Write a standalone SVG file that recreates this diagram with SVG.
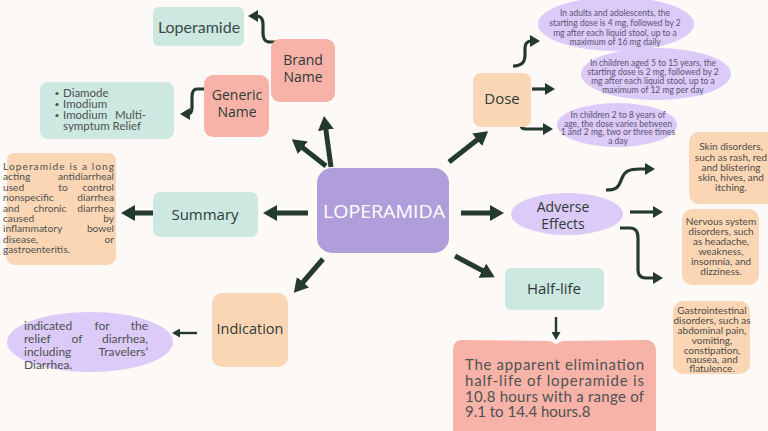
<svg xmlns="http://www.w3.org/2000/svg" width="768" height="431" viewBox="0 0 768 431">
<style>
.pink{fill:#f8b3a9}.teal{fill:#cde7e1}.peach{fill:#fbd6b5}.lav{fill:#dccaf9}
.lbl{font-family:"Open Sans","Liberation Sans",sans-serif;fill:#2e3b36;text-anchor:middle}
.body{font-family:Lato,"Liberation Sans",sans-serif;fill:#4e5250}
.dose{font-family:Lato,"Liberation Sans",sans-serif;fill:#5a5470;font-size:8.5px;text-anchor:middle}
.side{font-family:Lato,"Liberation Sans",sans-serif;fill:#4e4a45;font-size:10px;text-anchor:middle}
.c{fill:none;stroke:#24392f;stroke-linecap:butt;stroke-linejoin:round}
.big{stroke-width:5;marker-end:url(#hb)}
.med{stroke-width:3.2;marker-end:url(#hm)}
.thin{stroke-width:2.4;marker-end:url(#ht)}
</style>
<defs>
<marker id="hb" viewBox="0 0 14 16" markerWidth="14" markerHeight="16" refX="3" refY="8" orient="auto" markerUnits="userSpaceOnUse"><path d="M0,0 L14,8 L0,16 Z" fill="#24392f"/></marker>
<marker id="hm" viewBox="0 0 10 12" markerWidth="10" markerHeight="12" refX="2" refY="6" orient="auto" markerUnits="userSpaceOnUse"><path d="M0,0 L10,6 L0,12 Z" fill="#24392f"/></marker>
<marker id="ht" viewBox="0 0 8 9" markerWidth="8" markerHeight="9" refX="2" refY="4.5" orient="auto" markerUnits="userSpaceOnUse"><path d="M0,0 L8,4.5 L0,9 Z" fill="#24392f"/></marker>
</defs>
<rect width="768" height="431" fill="#fdf9f6"/>

<g id="connectors">
<path class="c big" d="M331,167 L325.5,127"/>
<path class="c big" d="M326,166 L300.5,146"/>
<path class="c big" d="M308,213 L274,213"/>
<path class="c big" d="M166,213 L132,213"/>
<path class="c big" d="M323,259 L301,284.5"/>
<path class="c big" d="M449,162 L479.5,138"/>
<path class="c big" d="M461,213 L493,213"/>
<path class="c big" d="M455,256 L485,272"/>
<path class="c med" d="M278,42 L270,42 C264,42 263,38 263,32 L263,24 C263,18 260,16 256,16"/>
<path class="c med" d="M205,89 L197,89 C193,89 192,93 192,97 L192,108 C192,112 190,114 188,114"/>
<path class="c med" d="M513,66 C522,66 525,62 525,55 L525,48 C525,43 528,41 532,41"/>
<path class="c med" d="M532,89 L547,89"/>
<path class="c med" d="M521,122 L521,125 C521,128 523,129 526,129 L545,129"/>
<path class="c med" d="M606,190 C619,190 619,185 622,178 C625,171 629,169 640,169 L647,169"/>
<path class="c med" d="M630,212 L655,212"/>
<path class="c med" d="M620,228 L630,228 C636,228 638,232 638,238 L638,270 C638,276 641,278 646,278 L655,278"/>
<path class="c thin" d="M197,333 L178,333"/>
<path class="c thin" d="M556,317 L556,334"/>
</g>

<g id="center">
<rect x="317" y="168" width="132" height="85" rx="15" fill="#b09edb"/>
<text x="384" y="218" font-family="Open Sans,Liberation Sans,sans-serif" font-size="19" fill="#ffffff" text-anchor="middle" textLength="122" lengthAdjust="spacingAndGlyphs">LOPERAMIDA</text>
</g>

<g id="loperamide">
<rect x="153" y="7" width="91" height="39" rx="6" class="teal"/>
<text x="199" y="33" font-family="Lato,Liberation Sans,sans-serif" font-size="16" fill="#3c4a46" text-anchor="middle">Loperamide</text>
</g>

<g id="brand-name">
<rect x="271" y="39" width="64" height="63" rx="9" class="pink"/>
<text class="lbl" font-size="14" x="303" y="65">Brand</text>
<text class="lbl" font-size="14" x="303" y="82">Name</text>
</g>

<g id="generic-name">
<rect x="204" y="75" width="65" height="62" rx="9" class="pink"/>
<text class="lbl" font-size="14" x="237" y="100">Generic</text>
<text class="lbl" font-size="14" x="237" y="117">Name</text>
</g>

<g id="generic-list">
<rect x="40" y="82" width="134" height="57" rx="8" class="teal"/>
<g class="body" font-size="11.5">
<circle cx="57" cy="93.5" r="1.6" fill="#4e5250"/>
<circle cx="57" cy="104.5" r="1.6" fill="#4e5250"/>
<circle cx="57" cy="115.5" r="1.6" fill="#4e5250"/>
<text x="63" y="97">Diamode</text>
<text x="63" y="108">Imodium</text>
<text x="63" y="119">Imodium</text>
<text x="146" y="119" text-anchor="end">Multi-</text>
<text x="63" y="130">symptum Relief</text>
</g>
</g>

<g id="summary">
<rect x="153" y="192" width="105" height="45" rx="7" class="teal"/>
<text class="lbl" font-size="15" x="205" y="220">Summary</text>
</g>

<g id="summary-text">
<path d="M14,153 L108,153 C114,153 116,157 116,163 L116,256 C116,262 112,265 106,265 L16,265 C9,265 6,261 6,255 L7,162 C7,156 9,153 14,153 Z" class="peach"/>
<g class="body" font-size="10.2">
<text x="3" y="170" textLength="111" lengthAdjust="spacing">Loperamide is a long</text>
<text x="3" y="180.4">acting</text><text x="114" y="180.4" text-anchor="end">antidiarrheal</text>
<text x="3" y="190.8">used</text><text x="63" y="190.8" text-anchor="middle">to</text><text x="114" y="190.8" text-anchor="end">control</text>
<text x="3" y="201.2">nonspecific</text><text x="114" y="201.2" text-anchor="end">diarrhea</text>
<text x="3" y="211.6">and</text><text x="50" y="211.6" text-anchor="middle">chronic</text><text x="114" y="211.6" text-anchor="end">diarrhea</text>
<text x="3" y="222">caused</text><text x="114" y="222" text-anchor="end">by</text>
<text x="3" y="232.4">inflammatory</text><text x="114" y="232.4" text-anchor="end">bowel</text>
<text x="3" y="242.8">disease,</text><text x="114" y="242.8" text-anchor="end">or</text>
<text x="3" y="253.2">gastroenteritis.</text>
</g>
</g>

<g id="indication">
<rect x="212" y="293" width="76" height="74" rx="10" class="peach"/>
<text class="lbl" font-size="14.5" x="250" y="334">Indication</text>
</g>

<g id="indication-text">
<ellipse cx="90" cy="342" rx="83" ry="30" class="lav"/>
<g class="body" font-size="12">
<text x="24" y="330">indicated</text><text x="102" y="330" text-anchor="middle">for</text><text x="148" y="330" text-anchor="end">the</text>
<text x="24" y="343">relief</text><text x="77" y="343" text-anchor="middle">of</text><text x="148" y="343" text-anchor="end">diarrhea,</text>
<text x="24" y="356">including</text><text x="148" y="356" text-anchor="end">Travelers’</text>
<text x="24" y="368.5">Diarrhea.</text>
</g>
</g>

<g id="dose">
<rect x="473" y="73" width="58" height="54" rx="8" class="peach"/>
<text class="lbl" font-size="15" x="502" y="104">Dose</text>
</g>

<g id="dose-adults">
<ellipse cx="616" cy="24" rx="78" ry="27" class="lav"/>
<text class="dose" x="615" y="16">In adults and adolescents, the</text>
<text class="dose" x="615" y="26">starting dose is 4 mg, followed by 2</text>
<text class="dose" x="615" y="35.5">mg after each liquid stool, up to a</text>
<text class="dose" x="615" y="44.5">maximum of 16 mg daily</text>
</g>

<g id="dose-children-5-15">
<ellipse cx="656" cy="74" rx="75" ry="26" class="lav"/>
<text class="dose" x="653" y="66">In children aged 5 to 15 years, the</text>
<text class="dose" x="653" y="75">starting dose is 2 mg, followed by 2</text>
<text class="dose" x="653" y="84">mg after each liquid stool, up to a</text>
<text class="dose" x="653" y="93">maximum of 12 mg per day</text>
</g>

<g id="dose-children-2-8">
<ellipse cx="617" cy="125" rx="60" ry="22" class="lav"/>
<text class="dose" x="618" y="118">In children 2 to 8 years of</text>
<text class="dose" x="618" y="126.5">age, the dose varies between</text>
<text class="dose" x="618" y="135">1 and 2 mg, two or three times</text>
<text class="dose" x="618" y="143.5">a day</text>
</g>

<g id="adverse-effects">
<ellipse cx="567" cy="214" rx="56" ry="21" class="lav"/>
<text class="lbl" font-size="14" x="563" y="212">Adverse</text>
<text class="lbl" font-size="14" x="563" y="229">Effects</text>
</g>

<g id="skin">
<rect x="689" y="132" width="90" height="72" rx="10" class="peach"/>
<text class="side" x="731" y="150">Skin disorders,</text>
<text class="side" x="731" y="160.5">such as rash, red</text>
<text class="side" x="731" y="171">and blistering</text>
<text class="side" x="731" y="181">skin, hives, and</text>
<text class="side" x="731" y="191">itching.</text>
</g>

<g id="nervous">
<rect x="682" y="209" width="77" height="76" rx="10" class="peach"/>
<text class="side" x="721" y="225">Nervous system</text>
<text class="side" x="721" y="235">disorders, such</text>
<text class="side" x="721" y="245">as headache,</text>
<text class="side" x="721" y="255">weakness,</text>
<text class="side" x="721" y="265">insomnia, and</text>
<text class="side" x="721" y="275">dizziness.</text>
</g>

<g id="gastrointestinal">
<rect x="673" y="301" width="77" height="73" rx="10" class="peach"/>
<g class="side" font-size="9.6">
<text x="712" y="313.5">Gastrointestinal</text>
<text x="712" y="323.5">disorders, such as</text>
<text x="712" y="333.5">abdominal pain,</text>
<text x="712" y="343.5">vomiting,</text>
<text x="712" y="353.5">constipation,</text>
<text x="712" y="363">nausea, and</text>
<text x="712" y="372">flatulence.</text>
</g>
</g>

<g id="half-life">
<rect x="505" y="268" width="99" height="42" rx="6" class="teal"/>
<text class="lbl" font-size="15" x="554" y="294">Half-life</text>
</g>

<g id="half-life-text">
<path d="M462,340 L548,341 C552,341 554,344 556,344 C558,344 560,341 564,341 L646,340 C652,340 656,344 656,351 L656,440 L453,440 L453,350 C453,344 456,340 462,340 Z" class="pink"/>
<g class="body" font-size="15" fill="#3e4341">
<text x="465" y="370" textLength="179" lengthAdjust="spacing">The apparent elimination</text>
<text x="465" y="386" textLength="179" lengthAdjust="spacing">half-life of loperamide is</text>
<text x="465" y="402" textLength="179" lengthAdjust="spacing">10.8 hours with a range of</text>
<text x="465" y="417">9.1 to 14.4 hours.8</text>
</g>
</g>
</svg>
